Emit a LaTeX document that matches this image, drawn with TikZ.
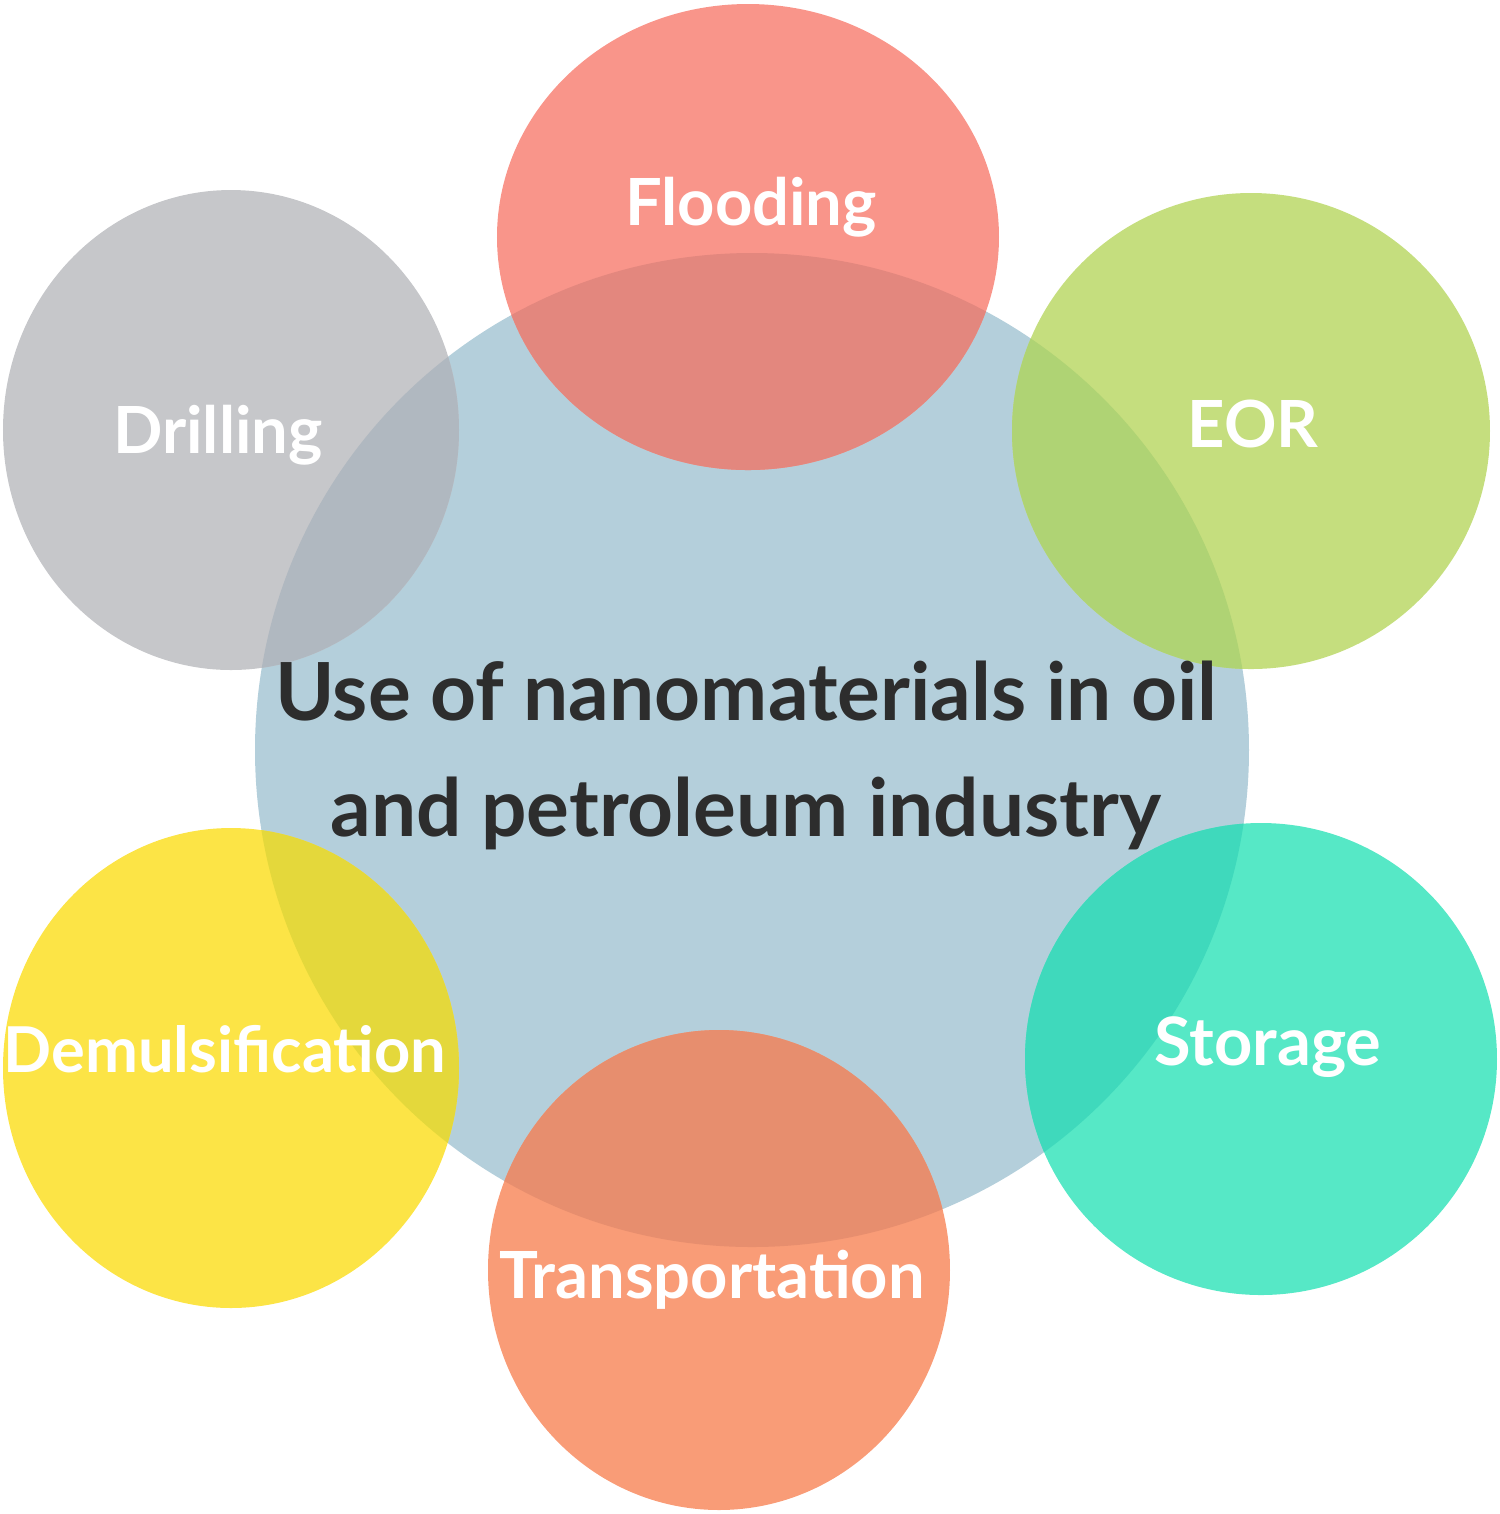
\documentclass[tikz,border=0pt]{standalone}
\usepackage{fontspec}
\setmainfont{Lato}
\usepackage{tikz}
\usetikzlibrary{shapes.geometric}
\definecolor{hubBlue}{HTML}{B4CFDB}
\definecolor{floodRed}{HTML}{F9958A}
\definecolor{floodDark}{HTML}{E3877E}
\definecolor{drillGray}{HTML}{C6C7CA}
\definecolor{drillDark}{HTML}{B0B8C0}
\definecolor{eorGreen}{HTML}{C5DE7E}
\definecolor{eorDark}{HTML}{AFD374}
\definecolor{storeTeal}{HTML}{56E8C6}
\definecolor{storeDark}{HTML}{3FD9BC}
\definecolor{transOrange}{HTML}{F99C77}
\definecolor{transDark}{HTML}{E78E6E}
\definecolor{demulYellow}{HTML}{FCE446}
\definecolor{demulDark}{HTML}{E4D83B}
\definecolor{hubText}{HTML}{2D2D2D}
\tikzstyle{hub} = [circle, minimum size=9.94cm, inner sep=0pt, fill=hubBlue]
\tikzstyle{petal} = [ellipse, inner sep=0pt]
\tikzstyle{petalText} = [text=white, font=\fontsize{18.5}{22}\selectfont\bfseries]
\tikzstyle{hubLabel} = [text=hubText, align=center,
font=\fontsize{22.8}{33}\selectfont\bfseries]

\begin{document}
\begin{tikzpicture}
\useasboundingbox (0,0) rectangle (15,-15.14);

\node(hub)[hub] at (7.52,-7.50){};

\node(flood)[petal, fill=floodRed, minimum width=5.02cm, minimum height=4.66cm]
at (7.48,-2.37){};
\node(drill)[petal, fill=drillGray, minimum width=4.56cm, minimum height=4.80cm]
at (2.31,-4.30){};
\node(eor)[petal, fill=eorGreen, minimum width=4.78cm, minimum height=4.76cm]
at (12.51,-4.31){};
\node(store)[petal, fill=storeTeal, minimum width=4.72cm, minimum height=4.72cm]
at (12.61,-10.59){};
\node(trans)[petal, fill=transOrange, minimum width=4.62cm, minimum height=4.80cm]
at (7.19,-12.70){};
\node(demul)[petal, fill=demulYellow, minimum width=4.56cm, minimum height=4.80cm]
at (2.31,-10.68){};

% darker where a petal lies over the hub
\begin{scope}
\clip (hub.center) circle (4.97);
\fill[floodDark] (flood.center) ellipse (2.51 and 2.33);
\fill[drillDark] (drill.center) ellipse (2.28 and 2.40);
\fill[eorDark] (eor.center) ellipse (2.39 and 2.38);
\fill[storeDark] (store.center) ellipse (2.36 and 2.36);
\fill[transDark] (trans.center) ellipse (2.31 and 2.40);
\fill[demulDark] (demul.center) ellipse (2.28 and 2.40);
\end{scope}

\node(hubTxt)[hubLabel] at (7.46,-7.55){Use of nanomaterials in oil\\and petroleum industry};

\node(floodTxt)[petalText] at (7.51,-2.07){Flooding};
\node(drillTxt)[petalText] at (2.18,-4.35){Drilling};
\node(eorTxt)[petalText] at (12.53,-4.24){EOR};
\node(storeTxt)[petalText, font=\fontsize{19}{22}\selectfont\bfseries]
at (12.68,-10.47){Storage};
\node(transTxt)[petalText] at (7.12,-12.80){Transportation};
\node(demulTxt)[petalText, font=\fontsize{18}{22}\selectfont\bfseries]
at (2.25,-10.49){Demulsification};

\end{tikzpicture}
\end{document}
